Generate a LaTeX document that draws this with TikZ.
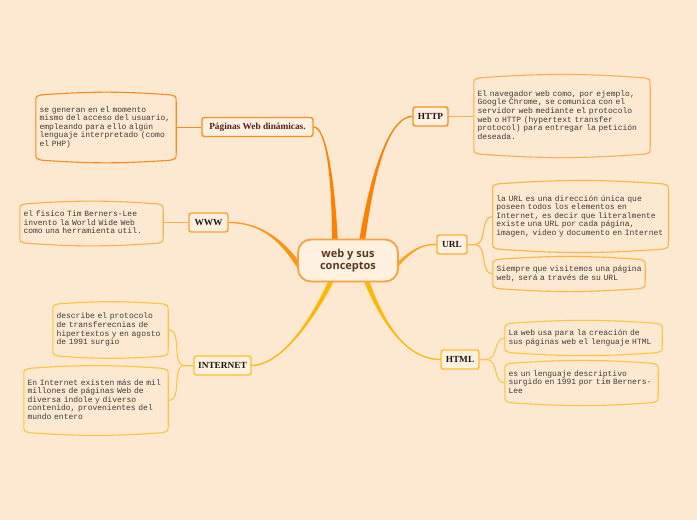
\documentclass[tikz,border=0pt]{standalone}
\usepackage{fontspec}
\setmainfont{Liberation Serif}
\setmonofont[WordSpace={1,0,0}]{Liberation Mono}
\newfontfamily\cfont{Open Sans}
\usetikzlibrary{calc,backgrounds}
\definecolor{bg}{HTML}{FDE8D1}
\definecolor{cA}{HTML}{FF8000}
\definecolor{cB}{HTML}{FF9410}
\definecolor{cC}{HTML}{FFA41E}
\definecolor{cD}{HTML}{FFB800}
\definecolor{lA}{HTML}{F7901E}
\definecolor{lB}{HTML}{FBA030}
\definecolor{lC}{HTML}{FCAE34}
\definecolor{lD}{HTML}{FDC02E}
\definecolor{tA}{HTML}{F68B1F}
\definecolor{tB}{HTML}{FBAE50}
\definecolor{tC}{HTML}{FBB440}
\definecolor{tD}{HTML}{FDC43E}
\definecolor{lfill}{HTML}{FFF0DF}
\definecolor{ctext}{HTML}{5B3A1C}
\definecolor{btext}{HTML}{3C3C3C}
\tikzset{
  lab/.style={draw, line width=1.4pt, rounded corners=2.5pt, fill=lfill, minimum height=19pt, inner sep=1pt, font=\fontsize{9.3}{10}\selectfont\bfseries, text=black!90},
  txt/.style={draw=none, inner xsep=3.5pt, inner ysep=0pt, align=left, text=btext, font=\ttfamily\fontsize{8}{8.6}\selectfont\frenchspacing},
  sub/.style={line width=1pt},
}
\newcommand\tl[1]{\begin{tabular}{@{}l@{}}#1\end{tabular}}
\newcommand\mybub[2]{\draw[#2, line width=1.1pt]
 ([yshift=-6pt]#1.north west) .. controls (#1.north west) .. ([xshift=6pt,yshift=1.5pt]#1.north west)
 to[bend left=4] ([xshift=-6pt,yshift=1.5pt]#1.north east)
 .. controls (#1.north east) .. ([yshift=-6pt]#1.north east)
 -- ([yshift=6pt]#1.south east)
 .. controls (#1.south east) .. ([xshift=-6pt,yshift=-1.5pt]#1.south east)
 to[bend left=4] ([xshift=6pt,yshift=-1.5pt]#1.south west)
 .. controls (#1.south west) .. ([yshift=6pt]#1.south west) -- cycle;}
\newcommand\mytaper[6]{%
 \fill[#1] ($#2+#6$) .. controls ($#3+0.5*#6$) and #4 .. #5 .. controls #4 and ($#3-0.5*#6$) .. ($#2-#6$) -- cycle;
 \draw[#1,line width=1.2pt] #2 .. controls #3 and #4 .. #5;}
\begin{document}
\begin{tikzpicture}[x=1pt,y=-1pt]
\useasboundingbox (0,0) rectangle (697,520);

% central node
\node[draw=lA!85, line width=1.8pt, fill=lfill, rounded corners=13pt, minimum width=100pt, minimum height=42pt, align=center, text=ctext, font=\cfont\bfseries\fontsize{11}{12.5}\selectfont] (c) at (348,260.5) {web y sus\\conceptos};

% labels
\node[lab, draw=lA, minimum width=111pt, text={rgb,255:red,90;green,28;blue,30}] (pl) at (257.5,127) {Páginas Web dinámicas.};
\node[lab, draw=lB, minimum width=39pt] (wl) at (208.5,222.5) {WWW};
\node[lab, draw=lD, minimum width=57pt] (il) at (222.5,365.5) {INTERNET};
\node[lab, draw=lA, minimum width=35pt] (hl) at (430.5,116.5) {HTTP};
\node[lab, draw=lC, minimum width=30pt] (ul) at (452,244.5) {URL};
\node[lab, draw=lD, minimum width=38pt] (ml) at (460,359.5) {HTML};

% text boxes
\node[txt, minimum width=140pt, minimum height=62pt, text width=133pt] (pt) at (106,127.5) {\tl{se generan en el momento\\mismo del acceso del usuario,\\empleando para ello algún\\lenguaje interpretado (como\\el PHP)}};
\node[txt, minimum width=143pt, minimum height=36pt, text width=136pt] (wt) at (91.5,223.5) {\tl{el fisico Tim Berners-Lee\\invento la World Wide Web\\como una herramienta util.}};
\node[txt, minimum width=115pt, minimum height=49pt, text width=108pt] (i1) at (110.5,330) {\tl{describe el protocolo\\de transferecnias de\\hipertextos y en agosto\\de 1991 surgio}};
\node[txt, minimum width=144pt, minimum height=61pt, text width=137pt] (i2) at (96,400.5) {\tl{En Internet existen más de mil\\millones de páginas Web de\\diversa índole y diverso\\contenido, provenientes del\\mundo entero}};
\node[txt, minimum width=176pt, minimum height=73pt, text width=169pt] (ht) at (562,116) {\tl{El navegador web como, por ejemplo,\\Google Chrome, se comunica con el\\servidor web mediante el protocolo\\web o HTTP (hypertext transfer\\protocol) para entregar la petición\\deseada.}};
\node[txt, minimum width=175pt, minimum height=62pt, text width=168.5pt] (u1) at (580.5,216.5) {\tl{la URL es una dirección única que\\poseen todos los elementos en\\Internet, es decir que literalmente\\existe una URL por cada página,\\imagen, video y documento en Internet}};
\node[txt, minimum width=152pt, minimum height=26pt, text width=145pt] (u2) at (569,274) {\tl{Siempre que visitemos una página\\web, será a través de su URL}};
\node[txt, minimum width=157pt, minimum height=26pt, text width=150pt] (h1) at (583.5,338) {\tl{La web usa para la creación de\\sus páginas web el lenguaje HTML}};
\node[txt, minimum width=153pt, minimum height=36pt, text width=146pt] (h2) at (581.5,383) {\tl{es un lenguaje descriptivo\\surgido en 1991 por tim Berners-\\Lee}};

\mybub{pt}{tA}
\mybub{wt}{tB}
\mybub{i1}{tD}
\mybub{i2}{tD}
\mybub{ht}{tB}
\mybub{u1}{tC}
\mybub{u2}{tC}
\mybub{h1}{tD}
\mybub{h2}{tD}

\begin{scope}[on background layer]
\fill[bg] (0,0) rectangle (697,520);
% main branches (tapered)
\mytaper{cA}{([xshift=-13pt,yshift=-3pt]c.north)}{(333,170)}{(325,127)}{(pl.east)}{(2.8,0)}
\mytaper{cA}{([xshift=14pt,yshift=-3pt]c.north)}{(374,160)}{(392,116.5)}{(hl.west)}{(3,0)}
\mytaper{cB}{([xshift=6pt,yshift=-12pt]c.west)}{(280,234)}{(255,222.5)}{(wl.east)}{(1.6,-2.6)}
\mytaper{cC}{([xshift=-4pt,yshift=-7pt]c.east)}{(415,246)}{(425,244.5)}{(ul.west)}{(0.6,2)}
\mytaper{cD}{([xshift=-16pt,yshift=3pt]c.south)}{(305,335)}{(275,365.5)}{(il.east)}{(2.8,0)}
\mytaper{cD}{([xshift=18pt,yshift=3pt]c.south)}{(385,330)}{(410,359.5)}{(ml.west)}{(2.8,0)}
% sub connectors
\draw[sub, tA] (pl.west) -- (pl.west -| pt.east);
\draw[sub, tB] (wl.west) -- (wl.west -| wt.east);
\draw[sub, tB] (hl.east) -- (hl.east -| ht.west);
\draw[sub, tC] (ul.east) -- ++(7,0) to[out=0,in=180] (u1.west);
\draw[sub, tC] (ul.east) -- ++(7,0) to[out=0,in=180] (u2.west);
\draw[sub, tD] (ml.east) -- ++(7,0) to[out=0,in=180] (h1.west);
\draw[sub, tD] (ml.east) -- ++(7,0) to[out=0,in=180] (h2.west);
\draw[sub, tD] (il.west) -- ++(-8,0) to[out=180,in=0] (i1.east);
\draw[sub, tD] (il.west) -- ++(-8,0) to[out=180,in=0] (i2.east);
\end{scope}
\end{tikzpicture}
\end{document}
